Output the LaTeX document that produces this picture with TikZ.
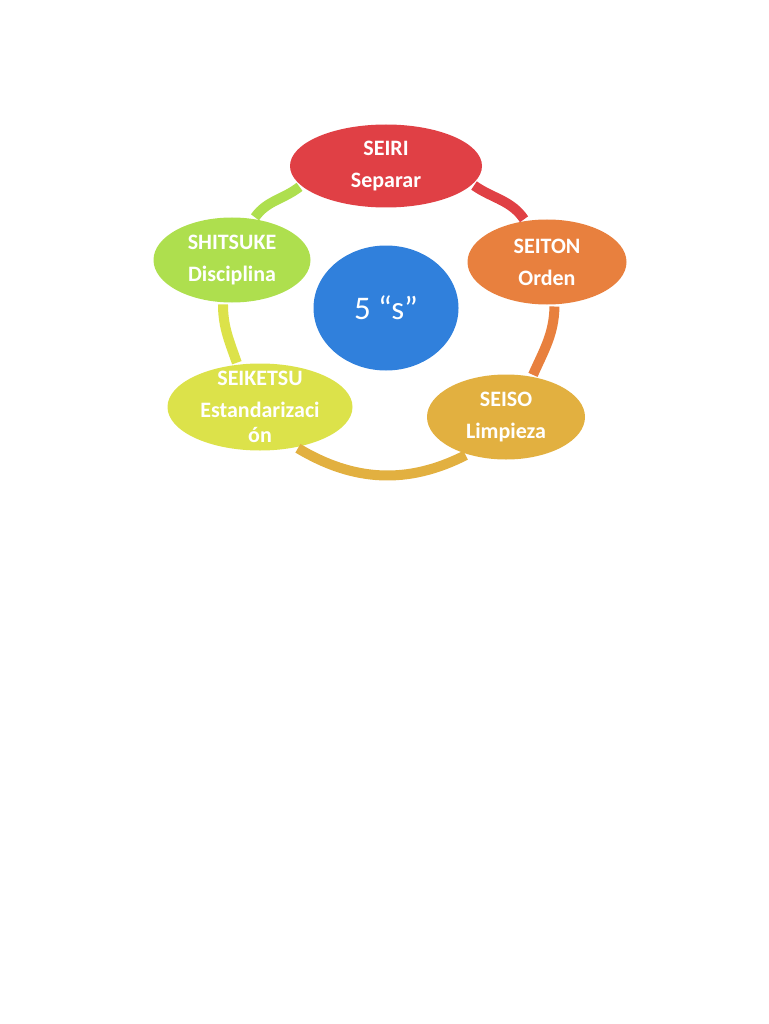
\documentclass[tikz,border=0pt]{standalone}
\usepackage{fontspec}
\setmainfont{Carlito}
\usetikzlibrary{shapes.geometric}

\definecolor{cRed}{HTML}{E04045}
\definecolor{cOrange}{HTML}{E8803E}
\definecolor{cGold}{HTML}{E2B040}
\definecolor{cYellow}{HTML}{DCE24A}
\definecolor{cGreen}{HTML}{AEDF4E}
\definecolor{cBlue}{HTML}{3080DC}

\begin{document}
\begin{tikzpicture}[x=1pt, y=1pt,
    sblob/.style={draw=none, shape=ellipse, inner sep=0, fill=#1},
    stext/.style={text=white, font=\bfseries\fontsize{22}{32}\selectfont, align=center},
    ring/.style={line width=10pt, shorten <=2pt, shorten >=2pt}]

    \useasboundingbox (0,0) rectangle (768,-1024);

    % The five S
    \node[sblob=cRed, minimum width=192pt, minimum height=83pt,
    label={[stext]center:SEIRI\\Separar}] (seiri) at (386,-166) {};
    \node[sblob=cOrange, minimum width=159pt, minimum height=85pt,
    label={[stext]center:SEITON\\Orden}] (seiton) at (547,-262) {};
    \node[sblob=cGold, minimum width=158pt, minimum height=85pt,
    label={[stext]center:SEISO\\Limpieza}] (seiso) at (506,-417) {};
    \node[sblob=cYellow, minimum width=185pt, minimum height=87pt,
    label={[stext]center:SEIKETSU\\Estandarizaci\\[-7pt]ón}] (seiketsu) at (260,-407) {};
    \node[sblob=cGreen, minimum width=157pt, minimum height=85pt,
    label={[stext]center:SHITSUKE\\Disciplina}] (shitsuke) at (232,-260) {};

    % Centre
    \node[sblob=cBlue, minimum width=145pt, minimum height=125pt,
    text=white, font=\fontsize{33}{38}\selectfont] (five) at (386,-308) {5 “s”};

    % Ring between the S
    \foreach \sa/\na/\sb/\nb/\o/\i/\col in {
        seiri/-12/seiton/118/-35/124/cRed,
        seiton/-80/seiso/57/-91/66/cOrange,
        seiso/224/seiketsu/-48/-153/-31/cGold,
        seiketsu/118/shitsuke/-102/109/-90/cYellow,
        shitsuke/62/seiri/193/55/218/cGreen}
        \draw[ring, \col] (\sa.\na) to[out=\o, in=\i] (\sb.\nb);

\end{tikzpicture}
\end{document}
